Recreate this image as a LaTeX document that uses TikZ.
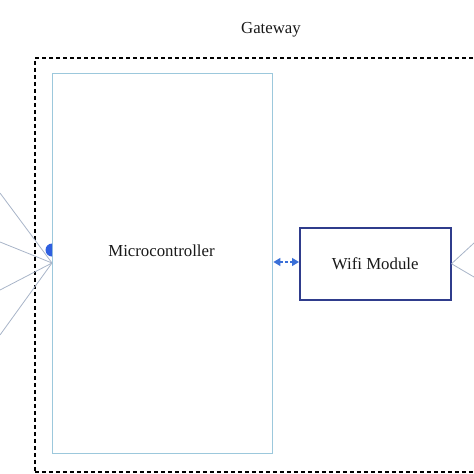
\documentclass[tikz,border=0pt]{standalone}
\usepackage{fontspec}
\setmainfont{Liberation Serif}
\usetikzlibrary{arrows.meta}
\definecolor{mcblue}{HTML}{9CC8DC}
\definecolor{wfblue}{HTML}{2F3C8C}
\definecolor{arblue}{HTML}{3A6FD8}
\definecolor{dotblue}{HTML}{2F5FE0}
\definecolor{raygray}{HTML}{A8B4C8}
\tikzset{
  lbl/.style={font=\fontsize{16.8}{19}\selectfont, text=black!90},
  mcbox/.style={draw=mcblue, line width=1.4pt, minimum width=220pt, minimum height=380pt, inner sep=0pt},
  wfbox/.style={draw=wfblue, line width=1.5pt, minimum width=151pt, minimum height=72pt, inner sep=0pt},
  gwbox/.style={draw=black, line width=1.8pt, dash pattern=on 4pt off 3pt, minimum width=460pt, minimum height=414pt, inner sep=0pt},
  ray/.style={draw=raygray, line width=0.8pt},
  link/.style={draw=arblue, line width=1.3pt, dash pattern=on 3pt off 2pt, {Triangle[length=7pt,width=8pt]}-{Triangle[length=7pt,width=8pt]}}
}
\begin{document}
\begin{tikzpicture}[x=1pt,y=-1pt]
\useasboundingbox (0,0) rectangle (474,474);
\clip (0,0) rectangle (474,474);
% gateway dashed box
\node[gwbox, anchor=north west] (gw) at (34,57) {};
\node[lbl] (gwlabel) at (271,30) {Gateway};
% microcontroller
\node[mcbox, anchor=north west] (mc) at (52,73) {};
\node[lbl] (mctext) at (161.5,251) {Microcontroller};
% wifi module
\node[wfbox, anchor=north west, lbl] (wf) at (299,227) {Wifi Module};
% connector
\draw[link] (mc.east |- 0,262) -- (wf.west |- 0,262);
% semicircle port
\coordinate (port) at (52,263);
\fill[dotblue] (52,256.5) arc[start angle=90, end angle=270, radius=6.5] -- cycle;
% rays left
\coordinate (l1) at (0,193);
\coordinate (l2) at (0,242);
\coordinate (l3) at (0,290);
\coordinate (l4) at (0,335);
\foreach \p in {l1,l2,l3,l4} \draw[ray] (port) -- (\p);
% rays right
\coordinate (wport) at (wf.east);
\coordinate (r1) at (474,243);
\coordinate (r2) at (474,277);
\draw[ray] (wport) -- (r1);
\draw[ray] (wport) -- (r2);
\end{tikzpicture}
\end{document}
